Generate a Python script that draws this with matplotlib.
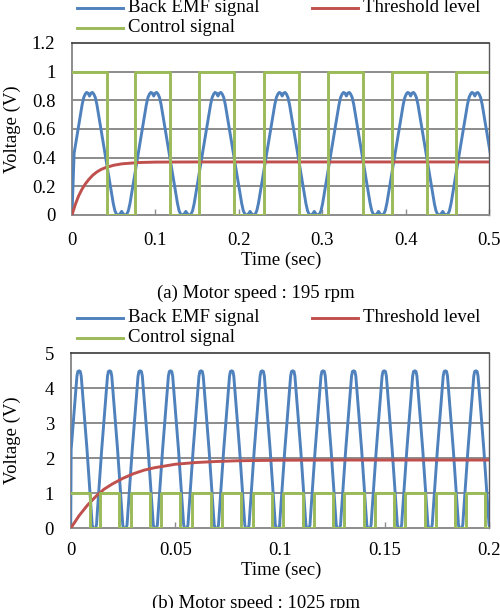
import numpy as np
import matplotlib
matplotlib.use('Agg')
import matplotlib.pyplot as plt
from matplotlib.lines import Line2D

plt.rcParams['font.family'] = ['Liberation Serif', 'DejaVu Serif']

# ---- (a) 195 rpm ----
top_period = 0.077
top_peaks = [-0.056, 0.021, 0.098, 0.175, 0.252, 0.329, 0.406, 0.483]
# one back EMF cycle, phase relative to peak centre
top_phase = [-0.5, -0.475, -0.45, -0.42, -0.395, -0.37, -0.24, -0.115, -0.09, -0.065,
             -0.045, -0.022, 0.0, 0.022, 0.045, 0.065, 0.09, 0.115, 0.24, 0.37,
             0.395, 0.42, 0.45, 0.475]
top_shape = [0.025, 0.008, 0.0, 0.005, 0.03, 0.08, 0.43, 0.77, 0.82, 0.845,
             0.855, 0.85, 0.83, 0.85, 0.855, 0.845, 0.82, 0.77, 0.43, 0.08,
             0.03, 0.005, 0.0, 0.008]
top_thr_t = [0, 0.004, 0.008, 0.012, 0.016, 0.02, 0.025, 0.03, 0.035, 0.04, 0.05,
             0.06, 0.08, 0.1, 0.15, 0.5]
top_thr_v = [0, 0.074, 0.134, 0.18, 0.217, 0.247, 0.278, 0.301, 0.318, 0.33, 0.347,
             0.357, 0.366, 0.369, 0.37, 0.37]
top_fall = [0.0425, 0.1172, 0.1945, 0.272, 0.349, 0.426]
top_rise = [0.0752, 0.1525, 0.230, 0.307, 0.384, 0.4605]

# ---- (b) 1025 rpm ----
bot_period = 0.01458
bot_peaks = [-0.0106, 0.0040, 0.0186, 0.0332, 0.0477, 0.0623, 0.0769, 0.0915,
             0.1061, 0.1206, 0.1352, 0.1498, 0.1644, 0.1790, 0.1936]
bot_phase = [-0.5, -0.46, -0.43, -0.40, -0.26, -0.11, -0.07, -0.04, 0.0,
             0.04, 0.07, 0.11, 0.26, 0.40, 0.43, 0.46]
bot_shape = [0.0, 0.0, 0.1, 0.5, 2.25, 3.9, 4.35, 4.48, 4.5,
             4.48, 4.35, 3.9, 2.25, 0.5, 0.1, 0.0]
bot_thr_t = [0, 0.004, 0.008, 0.012, 0.016, 0.02, 0.025, 0.03, 0.035, 0.04, 0.05,
             0.06, 0.07, 0.08, 0.1, 0.13, 0.2]
bot_thr_v = [0, 0.36, 0.66, 0.91, 1.12, 1.27, 1.43, 1.56, 1.66, 1.73, 1.83,
             1.88, 1.91, 1.93, 1.945, 1.95, 1.95]
bot_fall = [0.0092, 0.0233, 0.0379, 0.0524, 0.0670, 0.0816, 0.0962, 0.1108,
            0.1253, 0.1399, 0.1545, 0.1691, 0.1837, 0.1978]
bot_rise = [0.0141, 0.0287, 0.0433, 0.0578, 0.0724, 0.0870, 0.1016, 0.1162,
            0.1307, 0.1453, 0.1599, 0.1745, 0.1891]

BLUE = '#4F81BD'
RED = '#C0504D'
GREEN = '#9BBB59'
GRID = '#8C8C8C'
FS = 13.5


def emf_series(peaks, phase, shape, period):
    t = [0.0]
    v = [0.0]
    for p in peaks:
        for ph, s in zip(phase, shape):
            tt = p + ph * period
            if tt >= 0:
                t.append(tt)
                v.append(s)
    return t, v


def control_series(falls, rises, tend):
    events = sorted([(f, 0) for f in falls] + [(r, 1) for r in rises])
    t = [0.0]
    v = [1]
    cur = 1
    for tt, lvl in events:
        t += [tt, tt]
        v += [cur, lvl]
        cur = lvl
    t.append(tend)
    v.append(cur)
    return t, v


def draw_panel(ax, emf, thr_t, thr_v, ctrl, xmax, xticks, xlabels, ymax, yticks, ylabels, xpad):
    ax.plot(emf[0], emf[1], color=BLUE, lw=2.1, zorder=3)
    ax.plot(thr_t, thr_v, color=RED, lw=2.1, zorder=4)
    ax.plot(ctrl[0], ctrl[1], color=GREEN, lw=2.1, zorder=5)
    ax.set_xlim(0, xmax)
    ax.set_ylim(0, ymax)
    ax.set_xticks(xticks)
    ax.set_xticklabels(xlabels)
    ax.set_yticks(yticks)
    ax.set_yticklabels(ylabels)
    for y in yticks[1:-1]:
        ax.axhline(y, color=GRID, lw=1.4, zorder=1)
    ax.tick_params(axis='x', direction='in', length=4, width=1, color=GRID,
                   pad=xpad, labelsize=FS)
    ax.tick_params(axis='y', length=0, pad=12, labelsize=FS)
    ax.spines['left'].set_color(GRID)
    ax.spines['bottom'].set_color(GRID)
    ax.spines['left'].set_linewidth(1.4)
    ax.spines['bottom'].set_linewidth(1.4)
    ax.spines['top'].set_color('#3a3a3a')
    ax.spines['right'].set_color('#5a5a5a')
    ax.spines['top'].set_linewidth(1.2)
    ax.spines['right'].set_linewidth(1.0)


def legend_rows(fig, y1, y2):
    W, H = 500.0, 608.0
    entries = [(77, y1, BLUE, 'Back EMF signal'),
               (312, y1, RED, 'Threshold level'),
               (77, y2, GREEN, 'Control signal')]
    for x0, y, c, label in entries:
        fig.add_artist(Line2D([x0 / W, (x0 + 46) / W], [1 - y / H, 1 - y / H],
                              color=c, lw=2.1))
        fig.text((x0 + 51) / W, 1 - y / H, label, fontsize=FS, va='center', ha='left')


fig = plt.figure(figsize=(5, 6.08), dpi=100)

ax1 = fig.add_axes([0.144, 0.6464, 0.834, 0.2829])
draw_panel(ax1, emf_series(top_peaks, top_phase, top_shape, top_period),
           top_thr_t, top_thr_v, control_series(top_fall, top_rise, 0.5),
           0.5, [0, 0.1, 0.2, 0.3, 0.4, 0.5], ['0', '0.1', '0.2', '0.3', '0.4', '0.5'],
           1.2, [0, 0.2, 0.4, 0.6, 0.8, 1.0, 1.2], ['0', '0.2', '0.4', '0.6', '0.8', '1', '1.2'], 12)

ax2 = fig.add_axes([0.1414, 0.1311, 0.8372, 0.2878])
draw_panel(ax2, emf_series(bot_peaks, bot_phase, bot_shape, bot_period),
           bot_thr_t, bot_thr_v, control_series(bot_fall, bot_rise, 0.2),
           0.2, [0, 0.05, 0.1, 0.15, 0.2], ['0', '0.05', '0.1', '0.15', '0.2'],
           5, [0, 1, 2, 3, 4, 5], ['0', '1', '2', '3', '4', '5'], 10)

legend_rows(fig, 8, 28)
legend_rows(fig, 318, 338)

fig.text(0.562, 1 - 260 / 608.0, 'Time (sec)', fontsize=FS, ha='center', va='center')
fig.text(0.562, 1 - 570 / 608.0, 'Time (sec)', fontsize=FS, ha='center', va='center')
fig.text(0.024, 1 - 129 / 608.0, 'Voltage (V)', fontsize=FS, ha='center', va='center', rotation=90)
fig.text(0.024, 1 - 440 / 608.0, 'Voltage (V)', fontsize=FS, ha='center', va='center', rotation=90)
fig.text(0.512, 1 - 293 / 608.0, '(a) Motor speed : 195 rpm', fontsize=FS, ha='center', va='center')
# caption of panel (b) runs off the bottom edge, as in the source figure
fig.text(0.512, 1 - 595 / 608.0, '(b) Motor speed : 1025 rpm', fontsize=FS, ha='center', va='top')

fig.savefig('out.png', dpi=100)
